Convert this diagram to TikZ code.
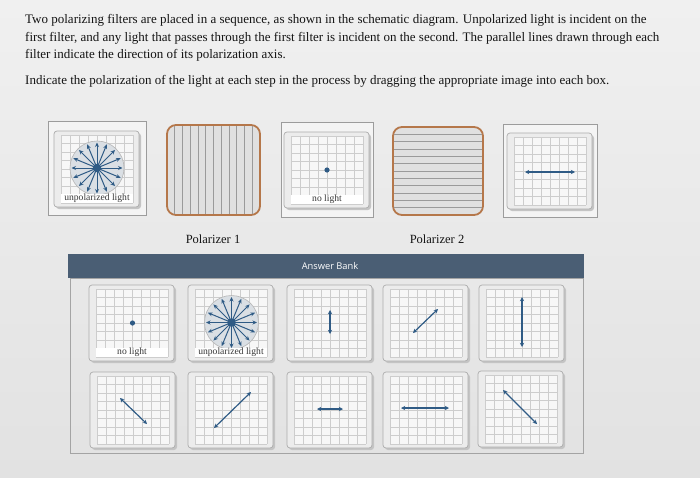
\documentclass[tikz,border=0pt]{standalone}
\usepackage{fontspec}
\setmainfont{Liberation Serif}
\newfontfamily\opensans{Open Sans}
\usetikzlibrary{arrows.meta}
\definecolor{bgtop}{HTML}{F0F0F0}
\definecolor{bgbot}{HTML}{E2E2E2}
\definecolor{dropfill}{HTML}{F4F4F4}
\definecolor{dropedge}{HTML}{9C9C9C}
\definecolor{cardfill}{HTML}{ECECEC}
\definecolor{cardedge}{HTML}{ACACAC}
\definecolor{cardshadow}{HTML}{C4C4C4}
\definecolor{gridfill}{HTML}{F7F7F7}
\definecolor{gridline}{HTML}{CDCDCD}
\definecolor{arrowblue}{HTML}{2F5B85}
\definecolor{circlefill}{HTML}{DADFE4}
\definecolor{circleedge}{HTML}{B5B5B5}
\definecolor{polfill}{HTML}{E0E0E0}
\definecolor{polline}{HTML}{9A9A9A}
\definecolor{poledge}{HTML}{B5774A}
\definecolor{header}{HTML}{4A5E74}
\definecolor{panel}{HTML}{A4A4A4}
\definecolor{txt}{HTML}{141414}
\tikzset{
  body/.style={anchor=base west, inner sep=0pt, font=\fontsize{13}{15}\selectfont, text=txt},
  lab/.style={inner sep=0pt, font=\fontsize{9.6}{10}\selectfont, text=txt!85},
  pollab/.style={inner sep=0pt, font=\fontsize{12.5}{14}\selectfont, text=txt},
  pol/.style={draw=arrowblue, line width=1.2pt, {Stealth[length=4.2pt,width=4.2pt]}-{Stealth[length=4.2pt,width=4.2pt]}},
  ray/.style={draw=arrowblue, line width=1pt, -{Stealth[length=4.5pt,width=4pt]}},
  dropbox/.style={draw=dropedge, fill=dropfill, line width=0.8pt},
  filter/.style={draw=poledge, fill=polfill, line width=1.8pt, rounded corners=9pt},
}
\newcommand\acard[2]{%
  \begin{scope}[shift={(#1,#2)}]
    \fill[cardshadow, rounded corners=3pt] (-41,-36) rectangle (44,40);
    \draw[cardedge, fill=cardfill, line width=0.7pt, rounded corners=3pt] (-43,-38) rectangle (42,38);
    \fill[gridfill] (-36,-34) rectangle (36,34);
    \foreach \i in {0,...,8} \draw[gridline, line width=0.6pt] (-36+9*\i,-34) -- (-36+9*\i,34);
    \foreach \j in {0,...,8} \draw[gridline, line width=0.6pt] (-36,-34+8.5*\j) -- (36,-34+8.5*\j);
  \end{scope}}
\newcommand\unpol[2]{%
  \begin{scope}[shift={(#1,#2)}]
    \draw[circleedge, fill=circlefill, line width=0.6pt] (0,0) circle (27pt);
    \foreach \a in {0,22.5,...,337.5} \draw[ray] (0,0) -- (\a:25.5);
    \fill[arrowblue] (0,0) circle (4.2pt);
  \end{scope}}
\newcommand\cardlab[4]{%
  \fill[white] (#1-36,#2+24.5) rectangle (#1+36,#2+33.5);
  \node[lab] (#3) at (#1,#2+29) {#4};}
\begin{document}
\begin{tikzpicture}[x=1pt,y=-1pt]
\useasboundingbox (0,0) rectangle (700,477);
\shade[top color=bgtop, bottom color=bgbot] (0,0) rectangle (700,477);

% question text
\node[body] (t1) at (25,23) {Two polarizing filters are placed in a sequence, as shown in the schematic diagram. Unpolarized light is incident on the};
\node[body] (t2) at (25,41) {first filter, and any light that passes through the first filter is incident on the second. The parallel lines drawn through each};
\node[body] (t3) at (25,58) {filter indicate the direction of its polarization axis.};
\node[body] (t4) at (25,84) {Indicate the polarization of the light at each step in the process by dragging the appropriate image into each box.};

% top row
\draw[dropbox] (48,121) rectangle (146,215);
\acard{97}{169}
\unpol{97}{168}
\cardlab{97}{169}{l1}{unpolarized light}

\draw[filter] (167,125) rectangle (260,215);
\foreach \i in {1,...,11} \draw[polline, line width=0.9pt] (167+7.75*\i,126) -- (167+7.75*\i,214);

\draw[dropbox] (281,122) rectangle (373,217);
\acard{327}{170}
\fill[arrowblue] (327,170) circle (2.6pt);
\cardlab{327}{170}{l3}{no light}

\draw[filter] (393,127) rectangle (483,215);
\foreach \j in {1,...,11} \draw[polline, line width=0.9pt] (394,127+7.35*\j) -- (482,127+7.35*\j);

\draw[dropbox] (503,124) rectangle (597,217);
\acard{550}{171}
\draw[pol] (525,172) -- (575,172);

\node[pollab] (p1) at (213,239) {Polarizer 1};
\node[pollab] (p2) at (437,239) {Polarizer 2};

% answer bank
\draw[panel, line width=0.8pt] (70,278) rectangle (583,453);
\fill[header] (68,254) rectangle (584,278);
\node[inner sep=0pt, text=white, font=\opensans\fontsize{9.3}{10}\selectfont] (ab) at (330,266) {Answer Bank};

% row 1
\acard{132}{323}
\fill[arrowblue] (132.5,323) circle (2.6pt);
\cardlab{132}{323}{l5}{no light}
\acard{231}{323}
\unpol{231.5}{322.5}
\cardlab{231}{323}{l6}{unpolarized light}
\acard{330}{323}
\draw[pol] (330,334) -- (330,310);
\acard{426}{323}
\draw[pol] (413,333) -- (438,309);
\acard{522}{323}
\draw[pol] (522,347) -- (522,297);

% row 2
\acard{133}{410}
\draw[pol] (120,398) -- (147,424);
\acard{231}{410}
\draw[pol] (214,428) -- (251,392);
\acard{330}{410}
\draw[pol] (317,409) -- (343,409);
\acard{426}{410}
\draw[pol] (401,408) -- (449,408);
\acard{521}{409}
\draw[pol] (503,390) -- (537,424);
\end{tikzpicture}
\end{document}
